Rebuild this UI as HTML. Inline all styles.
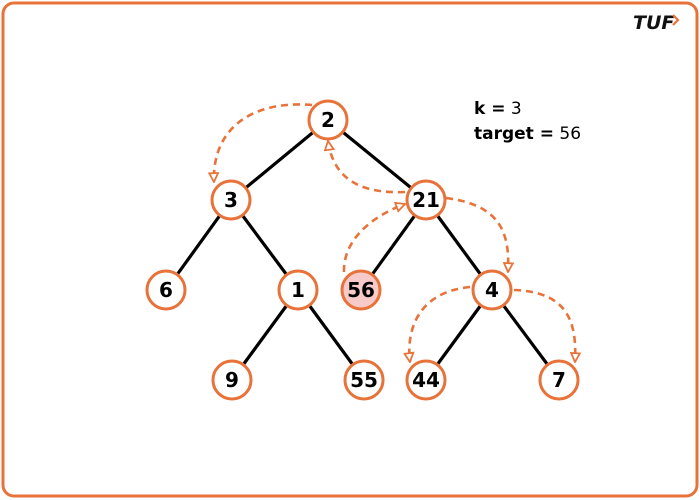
<!DOCTYPE html>
<html><head><style>
html,body{margin:0;padding:0;background:#fff;}
svg{display:block;}
text{font-family:"DejaVu Sans","Liberation Sans",sans-serif;}
</style></head><body>
<svg width="700" height="500" viewBox="0 0 700 500" xmlns="http://www.w3.org/2000/svg">
<defs>
<marker id="a" viewBox="0 0 10 10" refX="9" refY="5" markerWidth="11" markerHeight="11" orient="auto" markerUnits="userSpaceOnUse">
<path d="M1,1 L9,5 L1,9 Z" fill="#fff" stroke="#E8733A" stroke-width="1.6"/>
</marker>
</defs>
<rect x="3" y="3" width="694" height="493" rx="11" fill="#fff" stroke="#E8733A" stroke-width="3"/>
<text x="633" y="29" font-size="19" font-weight="bold" font-style="italic" fill="#111">TUF</text>
<path d="M673,15 L678,20 L673,25" fill="none" stroke="#E8733A" stroke-width="2.2"/>
<g stroke="#000" stroke-width="3.2">
<line x1="328" y1="120" x2="231" y2="200"/>
<line x1="328" y1="120" x2="426" y2="200"/>
<line x1="231" y1="200" x2="166" y2="290"/>
<line x1="231" y1="200" x2="298" y2="290"/>
<line x1="426" y1="200" x2="361" y2="290"/>
<line x1="426" y1="200" x2="492" y2="290"/>
<line x1="298" y1="290" x2="232" y2="380"/>
<line x1="298" y1="290" x2="364" y2="380"/>
<line x1="492" y1="290" x2="426" y2="380"/>
<line x1="492" y1="290" x2="559" y2="380"/>
</g>
<g fill="none" stroke="#E8733A" stroke-width="2.6" stroke-dasharray="7,5" marker-end="url(#a)">
<path d="M312,105 C250,100 212,130 214,182"/>
<path d="M405,192 C355,194 333,175 328,141"/>
<path d="M344,272 C343,238 375,215 405,204"/>
<path d="M446,198 C500,205 510,232 508,272"/>
<path d="M470,287 C418,292 406,330 410,362"/>
<path d="M514,290 C568,292 577,322 575,362"/>
</g>
<g stroke="#E8733A" stroke-width="3" fill="#fff">
<circle cx="328" cy="120" r="19"/>
<circle cx="231" cy="200" r="19"/>
<circle cx="426" cy="200" r="19"/>
<circle cx="166" cy="290" r="19"/>
<circle cx="298" cy="290" r="19"/>
<circle cx="361" cy="290" r="19" fill="#F7CACA"/>
<circle cx="492" cy="290" r="19"/>
<circle cx="232" cy="380" r="19"/>
<circle cx="364" cy="380" r="19"/>
<circle cx="426" cy="380" r="19"/>
<circle cx="559" cy="380" r="19"/>
</g>
<g font-size="20" font-weight="bold" fill="#000" text-anchor="middle">
<text x="328" y="127">2</text>
<text x="231" y="207">3</text>
<text x="426" y="207">21</text>
<text x="166" y="297">6</text>
<text x="298" y="297">1</text>
<text x="361" y="297">56</text>
<text x="492" y="297">4</text>
<text x="232" y="387">9</text>
<text x="364" y="387">55</text>
<text x="426" y="387">44</text>
<text x="559" y="387">7</text>
</g>
<g font-size="17" fill="#000">
<text x="474" y="114"><tspan font-weight="bold">k =</tspan> 3</text>
<text x="474" y="139"><tspan font-weight="bold">target =</tspan> 56</text>
</g>
</svg>
</body></html>
